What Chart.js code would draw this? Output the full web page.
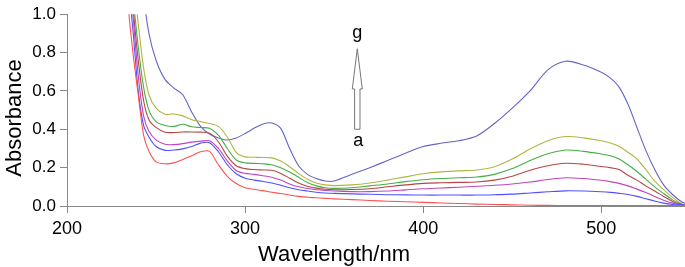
<!DOCTYPE html>
<html>
<head>
<meta charset="utf-8">
<script src="https://cdn.jsdelivr.net/npm/chart.js@4.4.1/dist/chart.umd.min.js"></script>
<style>
  body { margin: 0; background: #fff; }
  #wrap { width: 685px; height: 267px; }
</style>
</head>
<body>
<div id="wrap"><canvas id="uvChart" width="685" height="267"></canvas></div>
<script>
// wavelengths (nm), shared by all spectra
const wavelengths = [230, 234, 237, 240, 243, 246, 250, 255, 260, 265, 270, 275, 280, 285, 290, 295,
    300, 305, 310, 315, 320, 325, 330, 335, 340, 345, 350,
    360, 370, 380, 390, 400, 410, 420, 430, 440, 450, 460, 470, 480, 490, 500,
    505, 510, 515, 520, 525, 530, 535, 540, 545, 547];

// absorbance, curve a (bottom) ... curve g (top)
const curveA = [1.45, 1.07, 0.80, 0.58, 0.37, 0.285, 0.23, 0.22, 0.225, 0.243, 0.262, 0.283, 0.285, 0.215, 0.155, 0.117,
    0.095, 0.087, 0.08, 0.072, 0.065, 0.057, 0.05, 0.046, 0.043, 0.04, 0.037,
    0.033, 0.029, 0.025, 0.022, 0.019, 0.016, 0.013, 0.01, 0.008, 0.006, 0.004, 0.003, 0.002, 0.002, 0.002,
    0.002, 0.002, 0.002, 0.002, 0.002, 0.002, 0.002, 0.002, 0.002, 0.002];
const curveB = [1.6, 1.2, 0.92, 0.6, 0.42, 0.36, 0.31, 0.29, 0.292, 0.298, 0.31, 0.328, 0.33, 0.283, 0.215, 0.168,
    0.145, 0.135, 0.128, 0.12, 0.108, 0.095, 0.085, 0.078, 0.072, 0.068, 0.066,
    0.063, 0.061, 0.059, 0.058, 0.057, 0.057, 0.057, 0.057, 0.059, 0.062, 0.068, 0.074, 0.079, 0.078, 0.074,
    0.071, 0.066, 0.06, 0.05, 0.038, 0.026, 0.015, 0.008, 0.005, 0.004];
const curveC = [1.7, 1.3, 1.0, 0.68, 0.47, 0.39, 0.345, 0.322, 0.32, 0.325, 0.333, 0.338, 0.34, 0.3, 0.235, 0.185,
    0.17, 0.165, 0.158, 0.15, 0.135, 0.115, 0.1, 0.091, 0.085, 0.081, 0.078,
    0.075, 0.075, 0.078, 0.084, 0.09, 0.094, 0.098, 0.103, 0.108, 0.115, 0.125, 0.138, 0.147, 0.143, 0.134,
    0.127, 0.118, 0.105, 0.088, 0.07, 0.05, 0.03, 0.015, 0.006, 0.004];
const curveD = [1.75, 1.35, 1.04, 0.76, 0.55, 0.45, 0.41, 0.385, 0.383, 0.386, 0.386, 0.385, 0.38, 0.335, 0.26, 0.21,
    0.195, 0.19, 0.188, 0.186, 0.17, 0.145, 0.12, 0.103, 0.093, 0.087, 0.085,
    0.086, 0.09, 0.1, 0.11, 0.118, 0.121, 0.123, 0.125, 0.135, 0.155, 0.186, 0.21, 0.223, 0.218, 0.206,
    0.2, 0.19, 0.16, 0.135, 0.105, 0.078, 0.05, 0.024, 0.008, 0.005];
const curveE = [1.8, 1.4, 1.1, 0.83, 0.62, 0.5, 0.44, 0.42, 0.415, 0.426, 0.413, 0.409, 0.405, 0.37, 0.3, 0.24,
    0.225, 0.222, 0.22, 0.215, 0.2, 0.177, 0.15, 0.122, 0.105, 0.095, 0.092,
    0.095, 0.105, 0.115, 0.127, 0.137, 0.143, 0.147, 0.151, 0.165, 0.195, 0.237, 0.272, 0.292, 0.285, 0.271,
    0.262, 0.245, 0.215, 0.18, 0.14, 0.1, 0.065, 0.032, 0.01, 0.006];
const curveF = [1.9, 1.5, 1.2, 0.95, 0.72, 0.58, 0.51, 0.478, 0.48, 0.47, 0.45, 0.44, 0.43, 0.415, 0.36, 0.28,
    0.256, 0.254, 0.253, 0.251, 0.235, 0.205, 0.17, 0.14, 0.12, 0.11, 0.106,
    0.11, 0.12, 0.135, 0.152, 0.168, 0.178, 0.183, 0.188, 0.205, 0.245, 0.297, 0.34, 0.362, 0.355, 0.34,
    0.328, 0.31, 0.28, 0.245, 0.19, 0.13, 0.085, 0.045, 0.012, 0.006];
const curveG = [2.5, 2.1, 1.8, 1.4, 1.1, 0.9, 0.76, 0.66, 0.615, 0.58, 0.49, 0.415, 0.375, 0.355, 0.344, 0.355,
    0.378, 0.405, 0.428, 0.433, 0.405, 0.3, 0.21, 0.165, 0.143, 0.13, 0.13,
    0.165, 0.2, 0.237, 0.275, 0.31, 0.327, 0.34, 0.365, 0.43, 0.51, 0.6, 0.71, 0.755, 0.735, 0.697,
    0.668, 0.62, 0.53, 0.41, 0.29, 0.19, 0.11, 0.06, 0.022, 0.015];

const curveColors = ['rgb(255,80,80)', 'rgb(80,80,255)', 'rgb(190,70,190)', 'rgb(180,70,70)',
    'rgb(70,175,70)', 'rgb(180,180,70)', 'rgb(100,100,200)'];
const yTicks = [0, 0.2, 0.4, 0.6, 0.8, 1.0];

// arrow a -> g, in data units
const arrowX = 363;
const arrowBase = 0.40, arrowNeck = 0.61, arrowTip = 0.82;
const labelTop = { text: 'g', y: 0.876 };
const labelBottom = { text: 'a', y: 0.314 };

const FONT = '"Liberation Sans", Arial, Helvetica, sans-serif';

function toPoints(vals) {
    return wavelengths.map((w, i) => ({ x: w, y: vals[i] }));
}

const annotatePlugin = {
    id: 'annotate',
    afterDraw(chart) {
        const ctx = chart.ctx;
        const xs = chart.scales.x, ys = chart.scales.y;
        const cx = xs.getPixelForValue(arrowX);
        const yb = ys.getPixelForValue(arrowBase);
        const yn = ys.getPixelForValue(arrowNeck);
        const yt = ys.getPixelForValue(arrowTip);
        ctx.save();
        ctx.beginPath();
        ctx.moveTo(cx - 2.7, yb);
        ctx.lineTo(cx - 2.7, yn);
        ctx.lineTo(cx - 5, yn);
        ctx.lineTo(cx, yt);
        ctx.lineTo(cx + 5, yn);
        ctx.lineTo(cx + 2.7, yn);
        ctx.lineTo(cx + 2.7, yb);
        ctx.closePath();
        ctx.fillStyle = '#fff';
        ctx.fill();
        ctx.strokeStyle = '#777';
        ctx.lineWidth = 1;
        ctx.stroke();

        ctx.fillStyle = '#000';
        ctx.font = '18px ' + FONT;
        ctx.textAlign = 'center';
        ctx.textBaseline = 'alphabetic';
        ctx.fillText(labelTop.text, cx, ys.getPixelForValue(labelTop.y));
        ctx.fillText(labelBottom.text, cx + 1, ys.getPixelForValue(labelBottom.y));

        // axis titles
        ctx.font = '22px ' + FONT;
        ctx.fillText('Wavelength/nm', 334, 261);
        ctx.translate(21, 118);
        ctx.rotate(-Math.PI / 2);
        ctx.fillText('Absorbance', 0, 0);
        ctx.restore();
    }
};

const ctx = document.getElementById('uvChart').getContext('2d');
const names = ['a', 'b', 'c', 'd', 'e', 'f', 'g'];
const curves = [curveA, curveB, curveC, curveD, curveE, curveF, curveG];

new Chart(ctx, {
    type: 'line',
    data: {
        datasets: curves.map((c, i) => ({
            label: names[i],
            data: toPoints(c),
            borderColor: curveColors[i],
            borderWidth: 1.1,
            pointRadius: 0,
            fill: false,
            tension: 0.3
        }))
    },
    options: {
        responsive: false,
        animation: false,
        layout: { padding: { top: 12, right: 0, left: 0, bottom: 0 } },
        plugins: {
            legend: { display: false },
            tooltip: { enabled: false }
        },
        scales: {
            x: {
                type: 'linear',
                min: 200,
                max: 547,
                afterFit: s => { s.height = 61; },
                border: { color: '#888', width: 1 },
                grid: { drawOnChartArea: false, drawTicks: true, tickLength: 7, color: '#888' },
                ticks: {
                    stepSize: 100,
                    includeBounds: false,
                    padding: 5,
                    color: '#000',
                    font: { family: FONT, size: 18 }
                }
            },
            y: {
                min: 0,
                max: 1.0,
                afterFit: s => { s.width = 67; },
                afterBuildTicks: s => { s.ticks = yTicks.map(v => ({ value: v })); },
                border: { color: '#888', width: 1 },
                grid: { drawOnChartArea: false, drawTicks: true, tickLength: 7, color: '#888' },
                ticks: {
                    padding: 4,
                    color: '#000',
                    font: { family: FONT, size: 17 },
                    callback: v => v.toFixed(1)
                }
            }
        }
    },
    plugins: [annotatePlugin]
});
</script>
</body>
</html>
